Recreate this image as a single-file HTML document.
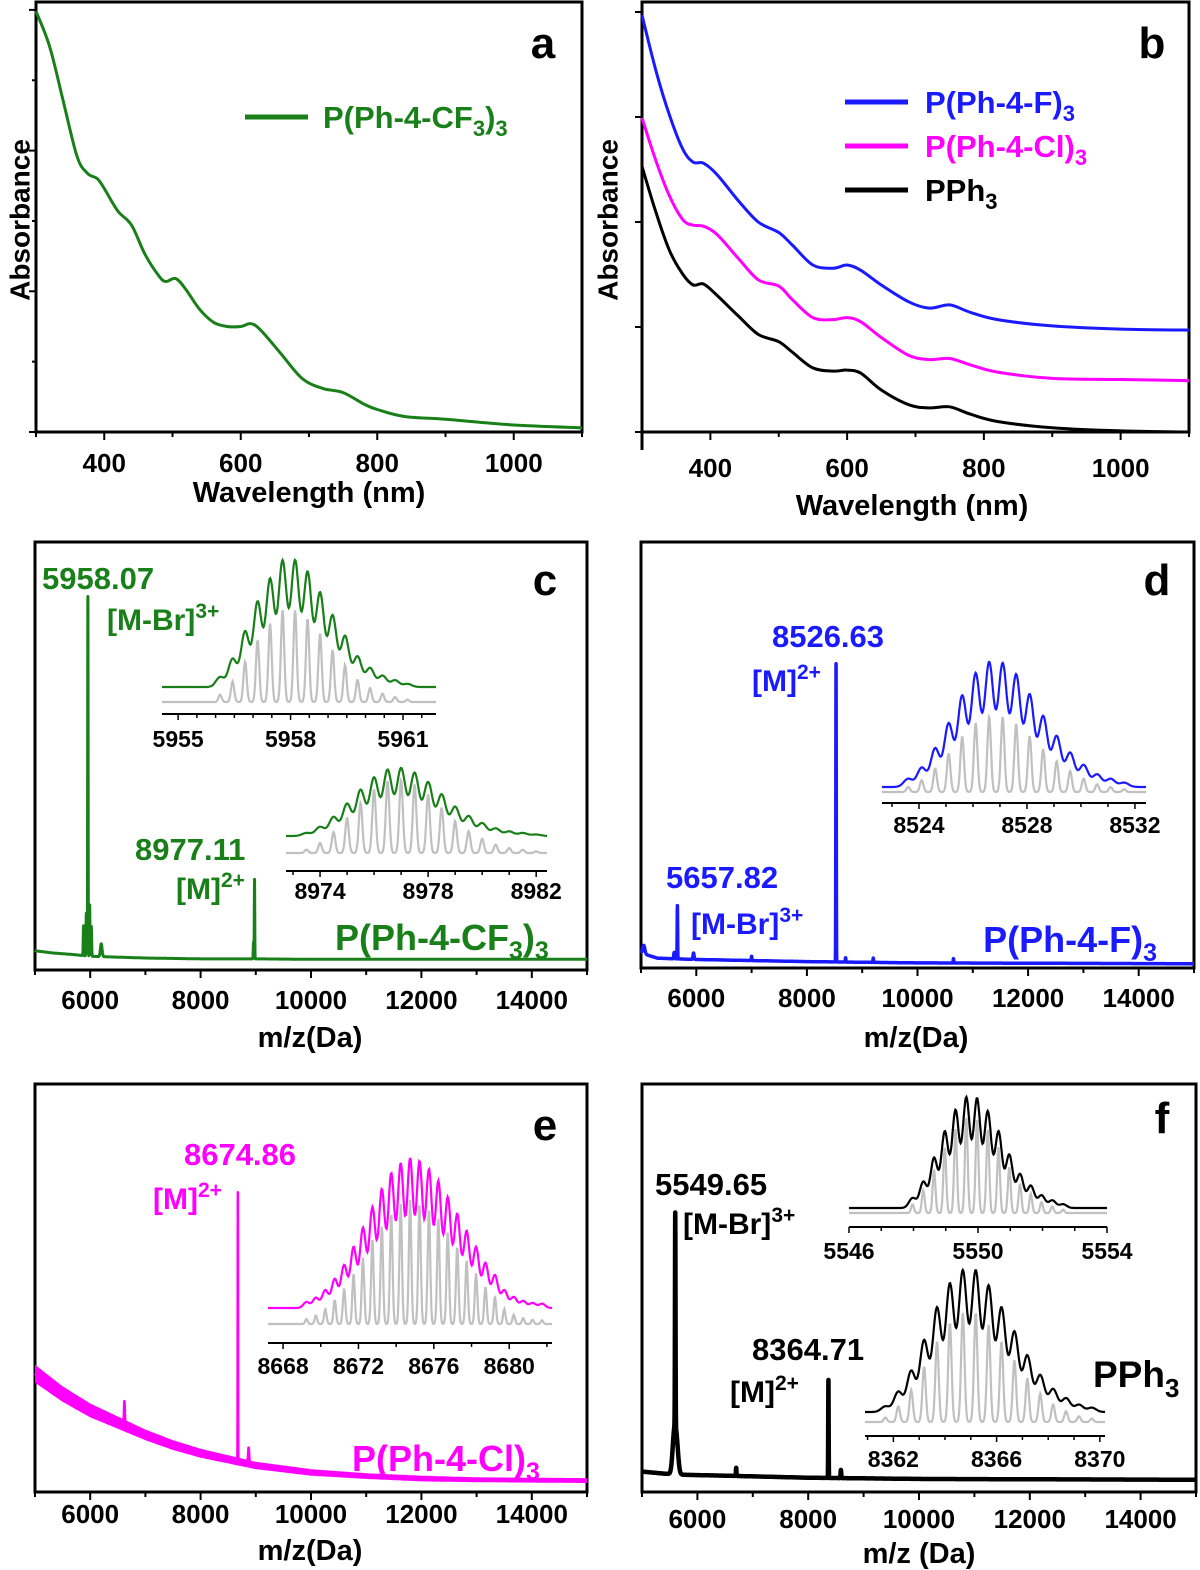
<!DOCTYPE html>
<html><head><meta charset="utf-8">
<style>
html,body{margin:0;padding:0;background:#fff;}
svg{display:block;}
text{font-family:"Liberation Sans",Arial,sans-serif;font-weight:bold;}
</style></head>
<body>
<svg id="fig" width="1200" height="1570" viewBox="0 0 1200 1570" xmlns="http://www.w3.org/2000/svg">
<rect width="1200" height="1570" fill="#fff"/>
<g id="marks"></g>
<!-- Panel a text -->
<text x="543" y="58" font-size="44" text-anchor="middle">a</text>
<line x1="245" y1="117" x2="308" y2="117" stroke="#198019" stroke-width="5"/>
<text x="323" y="128" font-size="31" fill="#198019">P(Ph-4-CF<tspan font-size="22" dy="8">3</tspan><tspan dy="-8">)</tspan><tspan font-size="22" dy="8">3</tspan></text>
<text x="309" y="502" font-size="29" text-anchor="middle">Wavelength (nm)</text>
<text transform="translate(20,220) rotate(-90)" font-size="28" text-anchor="middle" dominant-baseline="central">Absorbance</text>
<!-- Panel b text -->
<text x="1152" y="58" font-size="44" text-anchor="middle">b</text>
<line x1="845" y1="102" x2="908" y2="102" stroke="#1a1aff" stroke-width="5"/>
<text x="925" y="113" font-size="31" fill="#1a1aff">P(Ph-4-F)<tspan font-size="22" dy="8">3</tspan></text>
<line x1="845" y1="146" x2="908" y2="146" stroke="#ff00ff" stroke-width="5"/>
<text x="925" y="157" font-size="31" fill="#ff00ff">P(Ph-4-Cl)<tspan font-size="22" dy="8">3</tspan></text>
<line x1="845" y1="190" x2="908" y2="190" stroke="#000" stroke-width="5"/>
<text x="925" y="201" font-size="31">PPh<tspan font-size="22" dy="8">3</tspan></text>
<text x="912" y="515" font-size="29" text-anchor="middle">Wavelength (nm)</text>
<text transform="translate(608,220) rotate(-90)" font-size="28" text-anchor="middle" dominant-baseline="central">Absorbance</text>
<!-- Panel c text -->
<text x="545" y="595" font-size="44" text-anchor="middle">c</text>
<text x="42" y="589" font-size="31" fill="#198019">5958.07</text>
<text x="107" y="630" font-size="30" fill="#198019">[M-Br]<tspan font-size="21" dy="-12">3+</tspan></text>
<text x="135" y="860" font-size="31" fill="#198019">8977.11</text>
<text x="176" y="899" font-size="30" fill="#198019">[M]<tspan font-size="21" dy="-12">2+</tspan></text>
<text x="335" y="950" font-size="36" fill="#198019">P(Ph-4-CF<tspan font-size="25" dy="9">3</tspan><tspan dy="-9">)</tspan><tspan font-size="25" dy="9">3</tspan></text>
<text x="310" y="1047" font-size="29" text-anchor="middle">m/z(Da)</text>
<!-- Panel d text -->
<text x="1157" y="595" font-size="44" text-anchor="middle">d</text>
<text x="828" y="647" font-size="31" fill="#1a1aff" text-anchor="middle">8526.63</text>
<text x="752" y="691" font-size="30" fill="#1a1aff">[M]<tspan font-size="21" dy="-12">2+</tspan></text>
<text x="666" y="888" font-size="31" fill="#1a1aff">5657.82</text>
<text x="691" y="934" font-size="30" fill="#1a1aff">[M-Br]<tspan font-size="21" dy="-12">3+</tspan></text>
<text x="1157" y="952" font-size="36" fill="#1a1aff" text-anchor="end">P(Ph-4-F)<tspan font-size="25" dy="9">3</tspan></text>
<text x="916" y="1047" font-size="29" text-anchor="middle">m/z(Da)</text>
<!-- Panel e text -->
<text x="545" y="1140" font-size="44" text-anchor="middle">e</text>
<text x="240" y="1165" font-size="31" fill="#ff00ff" text-anchor="middle">8674.86</text>
<text x="153" y="1209" font-size="30" fill="#ff00ff">[M]<tspan font-size="21" dy="-12">2+</tspan></text>
<text x="352" y="1471" font-size="36" fill="#ff00ff">P(Ph-4-Cl)<tspan font-size="25" dy="9">3</tspan></text>
<text x="310" y="1560" font-size="29" text-anchor="middle">m/z(Da)</text>
<!-- Panel f text -->
<text x="1162" y="1133" font-size="44" text-anchor="middle">f</text>
<text x="655" y="1195" font-size="31">5549.65</text>
<text x="683" y="1234" font-size="30">[M-Br]<tspan font-size="21" dy="-12">3+</tspan></text>
<text x="752" y="1360" font-size="31">8364.71</text>
<text x="730" y="1402" font-size="30">[M]<tspan font-size="21" dy="-12">2+</tspan></text>
<text x="1093" y="1387" font-size="37">PPh<tspan font-size="26" dy="10">3</tspan></text>
<text x="919" y="1563" font-size="29" text-anchor="middle">m/z (Da)</text>
</svg>
<script>
// ---------- UV-vis data ----------
const aWave=[300,320,340,360,375,390,400,420,440,460,480,490,505,520,540,560,580,600,615,630,660,690,720,750,780,800,840,900,1000,1100];
const aAbs=[2.99,2.74,2.35,1.96,1.84,1.80,1.73,1.57,1.47,1.26,1.11,1.07,1.09,1.01,0.87,0.78,0.75,0.75,0.77,0.72,0.55,0.38,0.31,0.28,0.20,0.16,0.11,0.09,0.05,0.03];
const bWave=[300,320,340,360,375,390,410,440,470,500,520,550,580,600,620,650,690,720,750,780,820,900,1000,1100];
const bAbsF=[3.97,3.45,3.02,2.69,2.57,2.56,2.45,2.21,2.00,1.90,1.78,1.59,1.56,1.59,1.54,1.40,1.24,1.18,1.21,1.14,1.07,1.01,0.98,0.97];
const bAbsCl=[2.99,2.59,2.25,2.02,1.97,1.96,1.88,1.66,1.45,1.39,1.26,1.09,1.07,1.09,1.05,0.90,0.73,0.69,0.70,0.64,0.57,0.51,0.50,0.49];
const bAbsH=[2.53,2.10,1.73,1.50,1.40,1.41,1.30,1.11,0.93,0.86,0.76,0.61,0.58,0.59,0.56,0.40,0.26,0.23,0.24,0.17,0.10,0.04,0.01,0.0];
const uvTicks=[400,600,800,1000];
const aYTicks=[0,1,2,3];
const bYTicks=[0,1,2,3,4];
// ---------- MS data ----------
const msTicks=[6000,8000,10000,12000,14000];
const cBaseMz=[5000,5300,5700,6000,6500,7000,8000,9000,10000,12000,15000];
const cBaseI=[4.5,4.0,3.6,3.2,3.0,2.8,2.6,2.6,2.5,2.5,2.5];
const cPeakMz=[5880,5930,5958,5990,6020,6200,8960,8977];
const cPeakH=[7,10,84,12,7,3,4,18.5];
const cPeakW=[6,6,4,5,6,15,6,4];
const dBaseMz=[5000,5300,6000,8000,10000,15000];
const dBaseI=[3.5,2.3,2.0,1.5,1.2,1.0];
const dPeakMz=[5050,5600,5658,5950,7000,8527,8700,9200,10650];
const dPeakH=[2,1.5,12.5,1.5,1,70,1,1,1];
const dPeakW=[20,8,4,10,5,4,5,5,5];
const eBaseMz=[5000,5500,6000,6500,7000,7500,8000,8500,9000,10000,11000,12000,13000,15000];
const eBaseI=[29,24,20,17,14,11.5,9.5,8,6.5,4.8,3.9,3.3,3.0,2.8];
const eSpread=[2.2,1.9,1.7,1.5,1.3,1.2,1.1,1.0,0.9,0.8,0.7,0.7,0.6,0.6];
const ePeakMz=[6620,8675,8870];
const ePeakH=[6,66,4];
const ePeakW=[8,3,10];
const fBaseMz=[5000,5400,5800,6500,8000,10000,15000];
const fBaseI=[5,4.5,4.2,4,3.5,3.2,3];
const fPeakMz=[5580,5600,5625,6700,8365,8590];
const fPeakH=[9,52,7,2,24,2];
const fPeakW=[30,5,30,5,4,6];
// ---------- inset isotope data ----------
const c1Heights=[22,62,122,187,237,277,277,252,207,157,112,67,42,25,15,7];
const c2Heights=[10,30,62,105,150,190,215,220,205,175,135,95,65,42,25,15,10,5];
const dHeights=[15,35,70,115,165,205,225,223,203,167,128,92,62,40,23,15,8];
const eHeights=[15,26,45,73,108,153,201,253,298,338,363,375,368,348,318,278,236,193,153,113,83,45,28,18,13,11];
const f1Heights=[26,68,130,198,253,286,283,250,198,138,88,58,33,20,10];
const f2Heights=[13,47,95,165,240,295,325,325,290,240,185,130,85,53,32,17,10];
const c1Ticks=[5955,5958,5961];
const c2Ticks=[8974,8978,8982];
const dTicks=[8524,8528,8532];
const eTicks=[8668,8672,8676,8680];
const f1Ticks=[5546,5550,5554];
const f2Ticks=[8362,8366,8370];

const NS='http://www.w3.org/2000/svg';
const root=document.getElementById('marks');
function mk(tag,name,parent){
  const e=document.createElementNS(NS,tag);
  
  
  (parent||root).appendChild(e);
  return e;
}
function lin(d0,d1,r0,r1){return v=>r0+(v-d0)*(r1-r0)/(d1-d0);}
function interp(xs,ys,x){
  if(x<=xs[0])return ys[0];
  for(let i=1;i<xs.length;i++){if(x<=xs[i]){const t=(x-xs[i-1])/(xs[i]-xs[i-1]);return ys[i-1]+t*(ys[i]-ys[i-1]);}}
  return ys[ys.length-1];
}
function smooth(pts){
  let d='M'+pts[0][0].toFixed(1)+','+pts[0][1].toFixed(1);
  for(let i=0;i<pts.length-1;i++){
    const p0=pts[Math.max(i-1,0)],p1=pts[i],p2=pts[i+1],p3=pts[Math.min(i+2,pts.length-1)];
    const c1=[p1[0]+(p2[0]-p0[0])/6,p1[1]+(p2[1]-p0[1])/6];
    const c2=[p2[0]-(p3[0]-p1[0])/6,p2[1]-(p3[1]-p1[1])/6];
    d+='C'+c1[0].toFixed(1)+','+c1[1].toFixed(1)+' '+c2[0].toFixed(1)+','+c2[1].toFixed(1)+' '+p2[0].toFixed(1)+','+p2[1].toFixed(1);
  }
  return d;
}
function line(x1,y1,x2,y2,w,name,col){
  const l=mk('line',name);
  l.setAttribute('x1',x1);l.setAttribute('y1',y1);l.setAttribute('x2',x2);l.setAttribute('y2',y2);
  l.setAttribute('stroke',col||'#000');l.setAttribute('stroke-width',w);
  return l;
}
function label(x,y,s,size,name){
  const t=mk('text',name);
  t.setAttribute('x',x);t.setAttribute('y',y);t.setAttribute('font-size',size);t.setAttribute('text-anchor','middle');
  t.textContent=s;return t;
}
function frame(l,t,r,b,name){
  const p=mk('rect',name);
  p.setAttribute('x',l);p.setAttribute('y',t);p.setAttribute('width',r-l);p.setAttribute('height',b-t);
  p.setAttribute('fill','none');p.setAttribute('stroke','#000');p.setAttribute('stroke-width',3);
}

// ---------- UV panels ----------
function uvPanel(id,L,T,R,B,yMax,yPx,waves,series,colors,yTicks,labY,minorY){
  const X=lin(300,1100,L,R), Y=v=>B-v*yPx;
  frame(L,T,R,B,'plot-frame-'+id);
  series.forEach((s,k)=>{
    const p=mk('path','uv-curve-'+id+'-'+k);
    p.setAttribute('d',smooth(waves.map((w,i)=>[X(w),Y(s[i])])));
    p.setAttribute('fill','none');p.setAttribute('stroke',colors[k]);p.setAttribute('stroke-width',3);
  });
  for(let w=300;w<=1100;w+=100){
    const maj=uvTicks.includes(w);
    line(X(w),B,X(w),B+(maj?8:5),2,'x-tick-'+id);
  }
  uvTicks.forEach(w=>label(X(w),labY,String(w),26,'x-tick-label-'+id));
  yTicks.forEach(v=>line(L-7,Y(v),L,Y(v),2,'y-tick-'+id));
  if(minorY) yTicks.slice(0,-1).forEach(v=>line(L-4,Y(v+0.5),L,Y(v+0.5),2,'y-minor-tick-'+id));
}
uvPanel('a',36,2,582,432,3,140.7,aWave,[aAbs],['#198019'],aYTicks,472,true);
uvPanel('b',642,2,1189,432,4,105,bWave,[bAbsF,bAbsCl,bAbsH],['#1a1aff','#ff00ff','#000'],bYTicks,477,false);
line(642,432,642,450,3,'y-axis-extension-b');

// ---------- MS panels ----------
function msPanel(id,L,T,R,B,bm,bi,pm,ph,pw,col,sw,labY,spread){
  const X=lin(5000,15000,L,R), Y=v=>B-v*(B-T)/100;
  frame(L,T,R,B,'plot-frame-'+id);
  function inten(m){let v=interp(bm,bi,m);for(let k=0;k<pm.length;k++){const z=(m-pm[k])/pw[k];if(Math.abs(z)<6)v+=ph[k]*Math.exp(-0.5*z*z);}return v;}
  if(spread){
    let up=[],lo=[];
    for(let m=5000;m<=15000;m+=50){const s=interp(bm,spread,m);const b=interp(bm,bi,m);up.push(X(m).toFixed(1)+','+Y(b+s).toFixed(1));lo.unshift(X(m).toFixed(1)+','+Y(b-s).toFixed(1));}
    const band=mk('polygon','noise-band-'+id);
    band.setAttribute('points',up.concat(lo).join(' '));band.setAttribute('fill',col);
  }
  let d='';
  for(let m=5000;m<=15000;m+=1){d+=(m===5000?'M':'L')+X(m).toFixed(2)+','+Y(inten(m)).toFixed(1);}
  const p=mk('path','ms-spectrum-'+id);
  p.setAttribute('d',d);p.setAttribute('fill','none');p.setAttribute('stroke',col);p.setAttribute('stroke-width',sw);p.setAttribute('stroke-linejoin','round');
  for(let m=5000;m<=15000;m+=1000){const maj=msTicks.includes(m);line(X(m),B,X(m),B+(maj?8:5),2,'x-tick-'+id);}
  msTicks.forEach(m=>label(X(m),labY,String(m),26,'x-tick-label-'+id));
}
msPanel('c',35,542,587,970,cBaseMz,cBaseI,cPeakMz,cPeakH,cPeakW,'#198019',3,1009,null);
msPanel('d',641,542,1194,968,dBaseMz,dBaseI,dPeakMz,dPeakH,dPeakW,'#1a1aff',3.5,1007,null);
msPanel('e',35,1084,587,1492,eBaseMz,eBaseI,ePeakMz,ePeakH,ePeakW,'#ff00ff',2.5,1523,eSpread);
msPanel('f',642,1084,1196,1492,fBaseMz,fBaseI,fPeakMz,fPeakH,fPeakW,'#000',4.5,1528,null);

// ---------- insets ----------
function inset(id,x0,x1,m0,m1,axisY,heights,first,spacing,ticks,minorStep,gBase,gAmp,cBase,cAmp,col,labY){
  const X=lin(m0,m1,x0,x1);
  function env(sig){
    const pts=[];let mx=0;
    for(let i=0;i<=400;i++){const m=m0+(m1-m0)*i/400;let v=0;heights.forEach((h,k)=>{const z=(m-(first+k*spacing))/(sig*spacing);if(Math.abs(z)<6)v+=h*Math.exp(-0.5*z*z);});pts.push([m,v]);if(v>mx)mx=v;}
    return pts.map(p=>[p[0],p[1]/mx]);
  }
  const g=env(0.13), c=env(0.33);
  const gp=mk('path','simulated-isotope-'+id);
  gp.setAttribute('d','M'+g.map(p=>X(p[0]).toFixed(1)+','+(gBase-gAmp*p[1]).toFixed(1)).join('L'));
  gp.setAttribute('fill','none');gp.setAttribute('stroke','#c0c0c0');gp.setAttribute('stroke-width',2.2);
  const cp=mk('path','measured-isotope-'+id);
  cp.setAttribute('d','M'+c.map(p=>X(p[0]).toFixed(1)+','+(cBase-cAmp*p[1]).toFixed(1)).join('L'));
  cp.setAttribute('fill','none');cp.setAttribute('stroke',col);cp.setAttribute('stroke-width',2.2);
  line(x0,axisY,x1,axisY,2,'inset-axis-'+id);
  const start=Math.ceil(m0/minorStep)*minorStep;
  for(let m=start;m<=m1+1e-6;m+=minorStep){const maj=ticks.some(t=>Math.abs(t-m)<1e-6);line(X(m),axisY,X(m),axisY+(maj?6:4),1.5,'inset-tick-'+id);}
  ticks.forEach(t=>label(X(t),labY,String(t),23,'inset-tick-label-'+id));
}
inset('c1',162,436,5954.57,5961.88,714,c1Heights,5956.12,1/3,c1Ticks,0.5,702,92,687,127,'#198019',747);
inset('c2',286,547,8972.74,8982.4,871,c2Heights,8973.5,0.5,c2Ticks,1,853,73,836,68,'#198019',899);
inset('d',882,1146,8522.63,8532.41,803,dHeights,8523.6,0.5,dTicks,1,792,75,787,125,'#1a1aff',833);
inset('e',268,552,8667.2,8682.27,1343,eHeights,8669.24,0.5,eTicks,2,1324,124,1308,150,'#ff00ff',1374);
inset('f1',849,1107,5546,5554,1227,f1Heights,5547.97,1/3,f1Ticks,1,1213,95,1208,111,'#000',1259);
inset('f2',865,1105,8360.9,8370.2,1436,f2Heights,8361.69,0.5,f2Ticks,1,1422,109,1412,142,'#000',1467);
</script>
</body></html>
